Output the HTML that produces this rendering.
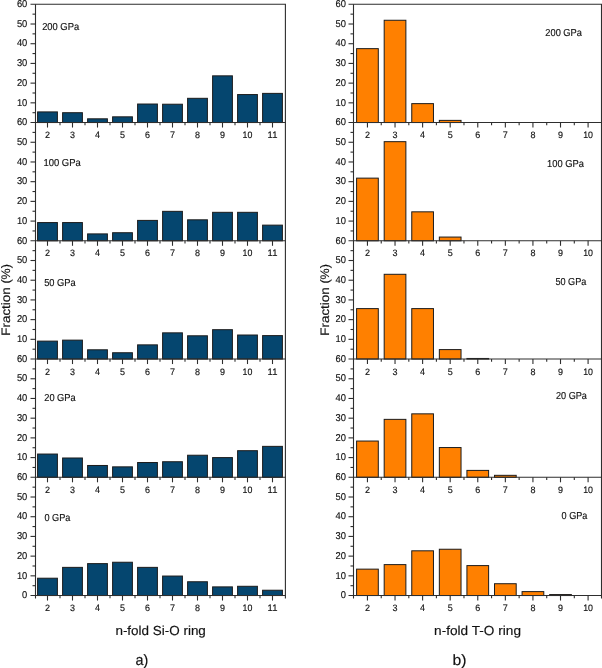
<!DOCTYPE html>
<html><head><meta charset="utf-8"><style>
html,body{margin:0;padding:0;background:#fff;width:602px;height:668px;overflow:hidden}
svg{display:block;will-change:transform;text-rendering:geometricPrecision}
text{font-family:"Liberation Sans",sans-serif;fill:#111;stroke:#111;stroke-width:0.15px}
</style></head><body>
<svg width="602" height="668" viewBox="0 0 602 668">
<rect x="37.60" y="111.91" width="19.80" height="10.64" fill="#05466f" stroke="#1c1c1c" stroke-width="1"/>
<rect x="62.60" y="112.70" width="19.80" height="9.85" fill="#05466f" stroke="#1c1c1c" stroke-width="1"/>
<rect x="87.60" y="118.81" width="19.80" height="3.74" fill="#05466f" stroke="#1c1c1c" stroke-width="1"/>
<rect x="112.60" y="116.83" width="19.80" height="5.72" fill="#05466f" stroke="#1c1c1c" stroke-width="1"/>
<rect x="137.60" y="104.02" width="19.80" height="18.53" fill="#05466f" stroke="#1c1c1c" stroke-width="1"/>
<rect x="162.60" y="104.22" width="19.80" height="18.33" fill="#05466f" stroke="#1c1c1c" stroke-width="1"/>
<rect x="187.60" y="98.31" width="19.80" height="24.24" fill="#05466f" stroke="#1c1c1c" stroke-width="1"/>
<rect x="212.60" y="75.84" width="19.80" height="46.71" fill="#05466f" stroke="#1c1c1c" stroke-width="1"/>
<rect x="237.60" y="94.56" width="19.80" height="27.99" fill="#05466f" stroke="#1c1c1c" stroke-width="1"/>
<rect x="262.60" y="93.38" width="19.80" height="29.17" fill="#05466f" stroke="#1c1c1c" stroke-width="1"/>
<rect x="37.60" y="222.57" width="19.80" height="18.23" fill="#05466f" stroke="#1c1c1c" stroke-width="1"/>
<rect x="62.60" y="222.57" width="19.80" height="18.23" fill="#05466f" stroke="#1c1c1c" stroke-width="1"/>
<rect x="87.60" y="233.90" width="19.80" height="6.90" fill="#05466f" stroke="#1c1c1c" stroke-width="1"/>
<rect x="112.60" y="232.72" width="19.80" height="8.08" fill="#05466f" stroke="#1c1c1c" stroke-width="1"/>
<rect x="137.60" y="220.40" width="19.80" height="20.40" fill="#05466f" stroke="#1c1c1c" stroke-width="1"/>
<rect x="162.60" y="211.34" width="19.80" height="29.46" fill="#05466f" stroke="#1c1c1c" stroke-width="1"/>
<rect x="187.60" y="219.81" width="19.80" height="20.99" fill="#05466f" stroke="#1c1c1c" stroke-width="1"/>
<rect x="212.60" y="212.32" width="19.80" height="28.48" fill="#05466f" stroke="#1c1c1c" stroke-width="1"/>
<rect x="237.60" y="212.32" width="19.80" height="28.48" fill="#05466f" stroke="#1c1c1c" stroke-width="1"/>
<rect x="262.60" y="225.13" width="19.80" height="15.67" fill="#05466f" stroke="#1c1c1c" stroke-width="1"/>
<rect x="37.60" y="341.12" width="19.80" height="17.93" fill="#05466f" stroke="#1c1c1c" stroke-width="1"/>
<rect x="62.60" y="340.13" width="19.80" height="18.92" fill="#05466f" stroke="#1c1c1c" stroke-width="1"/>
<rect x="87.60" y="349.79" width="19.80" height="9.26" fill="#05466f" stroke="#1c1c1c" stroke-width="1"/>
<rect x="112.60" y="352.74" width="19.80" height="6.31" fill="#05466f" stroke="#1c1c1c" stroke-width="1"/>
<rect x="137.60" y="344.86" width="19.80" height="14.19" fill="#05466f" stroke="#1c1c1c" stroke-width="1"/>
<rect x="162.60" y="332.84" width="19.80" height="26.21" fill="#05466f" stroke="#1c1c1c" stroke-width="1"/>
<rect x="187.60" y="335.79" width="19.80" height="23.26" fill="#05466f" stroke="#1c1c1c" stroke-width="1"/>
<rect x="212.60" y="329.68" width="19.80" height="29.37" fill="#05466f" stroke="#1c1c1c" stroke-width="1"/>
<rect x="237.60" y="335.01" width="19.80" height="24.04" fill="#05466f" stroke="#1c1c1c" stroke-width="1"/>
<rect x="262.60" y="335.60" width="19.80" height="23.45" fill="#05466f" stroke="#1c1c1c" stroke-width="1"/>
<rect x="37.60" y="454.04" width="19.80" height="23.26" fill="#05466f" stroke="#1c1c1c" stroke-width="1"/>
<rect x="62.60" y="457.99" width="19.80" height="19.31" fill="#05466f" stroke="#1c1c1c" stroke-width="1"/>
<rect x="87.60" y="465.48" width="19.80" height="11.83" fill="#05466f" stroke="#1c1c1c" stroke-width="1"/>
<rect x="112.60" y="466.85" width="19.80" height="10.45" fill="#05466f" stroke="#1c1c1c" stroke-width="1"/>
<rect x="137.60" y="462.52" width="19.80" height="14.78" fill="#05466f" stroke="#1c1c1c" stroke-width="1"/>
<rect x="162.60" y="461.73" width="19.80" height="15.57" fill="#05466f" stroke="#1c1c1c" stroke-width="1"/>
<rect x="187.60" y="455.23" width="19.80" height="22.07" fill="#05466f" stroke="#1c1c1c" stroke-width="1"/>
<rect x="212.60" y="457.59" width="19.80" height="19.71" fill="#05466f" stroke="#1c1c1c" stroke-width="1"/>
<rect x="237.60" y="450.69" width="19.80" height="26.61" fill="#05466f" stroke="#1c1c1c" stroke-width="1"/>
<rect x="262.60" y="446.36" width="19.80" height="30.94" fill="#05466f" stroke="#1c1c1c" stroke-width="1"/>
<rect x="37.60" y="578.21" width="19.80" height="17.34" fill="#05466f" stroke="#1c1c1c" stroke-width="1"/>
<rect x="62.60" y="567.37" width="19.80" height="28.18" fill="#05466f" stroke="#1c1c1c" stroke-width="1"/>
<rect x="87.60" y="563.62" width="19.80" height="31.93" fill="#05466f" stroke="#1c1c1c" stroke-width="1"/>
<rect x="112.60" y="562.24" width="19.80" height="33.31" fill="#05466f" stroke="#1c1c1c" stroke-width="1"/>
<rect x="137.60" y="567.37" width="19.80" height="28.18" fill="#05466f" stroke="#1c1c1c" stroke-width="1"/>
<rect x="162.60" y="576.04" width="19.80" height="19.51" fill="#05466f" stroke="#1c1c1c" stroke-width="1"/>
<rect x="187.60" y="581.75" width="19.80" height="13.80" fill="#05466f" stroke="#1c1c1c" stroke-width="1"/>
<rect x="212.60" y="586.88" width="19.80" height="8.67" fill="#05466f" stroke="#1c1c1c" stroke-width="1"/>
<rect x="237.60" y="586.29" width="19.80" height="9.26" fill="#05466f" stroke="#1c1c1c" stroke-width="1"/>
<rect x="262.60" y="590.23" width="19.80" height="5.32" fill="#05466f" stroke="#1c1c1c" stroke-width="1"/>
<path d="M30.50 4.30H285.40V598.55" fill="none" stroke="#2e2e2e" stroke-width="1.1"/>
<path d="M35.50 4.30V598.55" fill="none" stroke="#2e2e2e" stroke-width="1.1"/>
<path d="M30.50 122.55H285.40" fill="none" stroke="#2e2e2e" stroke-width="1.1"/>
<path d="M32.50 112.70H35.50" fill="none" stroke="#2e2e2e" stroke-width="1.1"/>
<path d="M30.50 102.84H35.50" fill="none" stroke="#2e2e2e" stroke-width="1.1"/>
<path d="M32.50 92.99H35.50" fill="none" stroke="#2e2e2e" stroke-width="1.1"/>
<path d="M30.50 83.13H35.50" fill="none" stroke="#2e2e2e" stroke-width="1.1"/>
<path d="M32.50 73.28H35.50" fill="none" stroke="#2e2e2e" stroke-width="1.1"/>
<path d="M30.50 63.42H35.50" fill="none" stroke="#2e2e2e" stroke-width="1.1"/>
<path d="M32.50 53.57H35.50" fill="none" stroke="#2e2e2e" stroke-width="1.1"/>
<path d="M30.50 43.72H35.50" fill="none" stroke="#2e2e2e" stroke-width="1.1"/>
<path d="M32.50 33.86H35.50" fill="none" stroke="#2e2e2e" stroke-width="1.1"/>
<path d="M30.50 24.01H35.50" fill="none" stroke="#2e2e2e" stroke-width="1.1"/>
<path d="M32.50 14.15H35.50" fill="none" stroke="#2e2e2e" stroke-width="1.1"/>
<text x="27.30" y="105.54" text-anchor="end" font-size="9.9" textLength="10.4" lengthAdjust="spacingAndGlyphs">10</text>
<text x="27.30" y="85.83" text-anchor="end" font-size="9.9" textLength="10.4" lengthAdjust="spacingAndGlyphs">20</text>
<text x="27.30" y="66.12" text-anchor="end" font-size="9.9" textLength="10.4" lengthAdjust="spacingAndGlyphs">30</text>
<text x="27.30" y="46.42" text-anchor="end" font-size="9.9" textLength="10.4" lengthAdjust="spacingAndGlyphs">40</text>
<text x="27.30" y="26.71" text-anchor="end" font-size="9.9" textLength="10.4" lengthAdjust="spacingAndGlyphs">50</text>
<text x="27.30" y="7.00" text-anchor="end" font-size="9.9" textLength="10.4" lengthAdjust="spacingAndGlyphs">60</text>
<path d="M47.50 122.55V127.55" fill="none" stroke="#2e2e2e" stroke-width="1.1"/>
<path d="M60.00 122.55V125.15" fill="none" stroke="#2e2e2e" stroke-width="1.1"/>
<text x="47.50" y="138.15" text-anchor="middle" font-size="9.3" textLength="5.0" lengthAdjust="spacingAndGlyphs">2</text>
<path d="M72.50 122.55V127.55" fill="none" stroke="#2e2e2e" stroke-width="1.1"/>
<path d="M85.00 122.55V125.15" fill="none" stroke="#2e2e2e" stroke-width="1.1"/>
<text x="72.50" y="138.15" text-anchor="middle" font-size="9.3" textLength="5.0" lengthAdjust="spacingAndGlyphs">3</text>
<path d="M97.50 122.55V127.55" fill="none" stroke="#2e2e2e" stroke-width="1.1"/>
<path d="M110.00 122.55V125.15" fill="none" stroke="#2e2e2e" stroke-width="1.1"/>
<text x="97.50" y="138.15" text-anchor="middle" font-size="9.3" textLength="5.0" lengthAdjust="spacingAndGlyphs">4</text>
<path d="M122.50 122.55V127.55" fill="none" stroke="#2e2e2e" stroke-width="1.1"/>
<path d="M135.00 122.55V125.15" fill="none" stroke="#2e2e2e" stroke-width="1.1"/>
<text x="122.50" y="138.15" text-anchor="middle" font-size="9.3" textLength="5.0" lengthAdjust="spacingAndGlyphs">5</text>
<path d="M147.50 122.55V127.55" fill="none" stroke="#2e2e2e" stroke-width="1.1"/>
<path d="M160.00 122.55V125.15" fill="none" stroke="#2e2e2e" stroke-width="1.1"/>
<text x="147.50" y="138.15" text-anchor="middle" font-size="9.3" textLength="5.0" lengthAdjust="spacingAndGlyphs">6</text>
<path d="M172.50 122.55V127.55" fill="none" stroke="#2e2e2e" stroke-width="1.1"/>
<path d="M185.00 122.55V125.15" fill="none" stroke="#2e2e2e" stroke-width="1.1"/>
<text x="172.50" y="138.15" text-anchor="middle" font-size="9.3" textLength="5.0" lengthAdjust="spacingAndGlyphs">7</text>
<path d="M197.50 122.55V127.55" fill="none" stroke="#2e2e2e" stroke-width="1.1"/>
<path d="M210.00 122.55V125.15" fill="none" stroke="#2e2e2e" stroke-width="1.1"/>
<text x="197.50" y="138.15" text-anchor="middle" font-size="9.3" textLength="5.0" lengthAdjust="spacingAndGlyphs">8</text>
<path d="M222.50 122.55V127.55" fill="none" stroke="#2e2e2e" stroke-width="1.1"/>
<path d="M235.00 122.55V125.15" fill="none" stroke="#2e2e2e" stroke-width="1.1"/>
<text x="222.50" y="138.15" text-anchor="middle" font-size="9.3" textLength="5.0" lengthAdjust="spacingAndGlyphs">9</text>
<path d="M247.50 122.55V127.55" fill="none" stroke="#2e2e2e" stroke-width="1.1"/>
<path d="M260.00 122.55V125.15" fill="none" stroke="#2e2e2e" stroke-width="1.1"/>
<text x="247.50" y="138.15" text-anchor="middle" font-size="9.3" textLength="9.8" lengthAdjust="spacingAndGlyphs">10</text>
<path d="M272.50 122.55V127.55" fill="none" stroke="#2e2e2e" stroke-width="1.1"/>
<text x="272.50" y="138.15" text-anchor="middle" font-size="9.3" textLength="9.8" lengthAdjust="spacingAndGlyphs">11</text>
<text x="42.13" y="30.00" font-size="10.1" textLength="36.97" lengthAdjust="spacingAndGlyphs">200 GPa</text>
<path d="M30.50 240.80H285.40" fill="none" stroke="#2e2e2e" stroke-width="1.1"/>
<path d="M32.50 230.95H35.50" fill="none" stroke="#2e2e2e" stroke-width="1.1"/>
<path d="M30.50 221.09H35.50" fill="none" stroke="#2e2e2e" stroke-width="1.1"/>
<path d="M32.50 211.24H35.50" fill="none" stroke="#2e2e2e" stroke-width="1.1"/>
<path d="M30.50 201.38H35.50" fill="none" stroke="#2e2e2e" stroke-width="1.1"/>
<path d="M32.50 191.53H35.50" fill="none" stroke="#2e2e2e" stroke-width="1.1"/>
<path d="M30.50 181.68H35.50" fill="none" stroke="#2e2e2e" stroke-width="1.1"/>
<path d="M32.50 171.82H35.50" fill="none" stroke="#2e2e2e" stroke-width="1.1"/>
<path d="M30.50 161.97H35.50" fill="none" stroke="#2e2e2e" stroke-width="1.1"/>
<path d="M32.50 152.11H35.50" fill="none" stroke="#2e2e2e" stroke-width="1.1"/>
<path d="M30.50 142.26H35.50" fill="none" stroke="#2e2e2e" stroke-width="1.1"/>
<path d="M32.50 132.40H35.50" fill="none" stroke="#2e2e2e" stroke-width="1.1"/>
<text x="27.30" y="223.79" text-anchor="end" font-size="9.9" textLength="10.4" lengthAdjust="spacingAndGlyphs">10</text>
<text x="27.30" y="204.08" text-anchor="end" font-size="9.9" textLength="10.4" lengthAdjust="spacingAndGlyphs">20</text>
<text x="27.30" y="184.38" text-anchor="end" font-size="9.9" textLength="10.4" lengthAdjust="spacingAndGlyphs">30</text>
<text x="27.30" y="164.67" text-anchor="end" font-size="9.9" textLength="10.4" lengthAdjust="spacingAndGlyphs">40</text>
<text x="27.30" y="144.96" text-anchor="end" font-size="9.9" textLength="10.4" lengthAdjust="spacingAndGlyphs">50</text>
<text x="27.30" y="125.25" text-anchor="end" font-size="9.9" textLength="10.4" lengthAdjust="spacingAndGlyphs">60</text>
<path d="M47.50 240.80V245.80" fill="none" stroke="#2e2e2e" stroke-width="1.1"/>
<path d="M60.00 240.80V243.40" fill="none" stroke="#2e2e2e" stroke-width="1.1"/>
<text x="47.50" y="256.40" text-anchor="middle" font-size="9.3" textLength="5.0" lengthAdjust="spacingAndGlyphs">2</text>
<path d="M72.50 240.80V245.80" fill="none" stroke="#2e2e2e" stroke-width="1.1"/>
<path d="M85.00 240.80V243.40" fill="none" stroke="#2e2e2e" stroke-width="1.1"/>
<text x="72.50" y="256.40" text-anchor="middle" font-size="9.3" textLength="5.0" lengthAdjust="spacingAndGlyphs">3</text>
<path d="M97.50 240.80V245.80" fill="none" stroke="#2e2e2e" stroke-width="1.1"/>
<path d="M110.00 240.80V243.40" fill="none" stroke="#2e2e2e" stroke-width="1.1"/>
<text x="97.50" y="256.40" text-anchor="middle" font-size="9.3" textLength="5.0" lengthAdjust="spacingAndGlyphs">4</text>
<path d="M122.50 240.80V245.80" fill="none" stroke="#2e2e2e" stroke-width="1.1"/>
<path d="M135.00 240.80V243.40" fill="none" stroke="#2e2e2e" stroke-width="1.1"/>
<text x="122.50" y="256.40" text-anchor="middle" font-size="9.3" textLength="5.0" lengthAdjust="spacingAndGlyphs">5</text>
<path d="M147.50 240.80V245.80" fill="none" stroke="#2e2e2e" stroke-width="1.1"/>
<path d="M160.00 240.80V243.40" fill="none" stroke="#2e2e2e" stroke-width="1.1"/>
<text x="147.50" y="256.40" text-anchor="middle" font-size="9.3" textLength="5.0" lengthAdjust="spacingAndGlyphs">6</text>
<path d="M172.50 240.80V245.80" fill="none" stroke="#2e2e2e" stroke-width="1.1"/>
<path d="M185.00 240.80V243.40" fill="none" stroke="#2e2e2e" stroke-width="1.1"/>
<text x="172.50" y="256.40" text-anchor="middle" font-size="9.3" textLength="5.0" lengthAdjust="spacingAndGlyphs">7</text>
<path d="M197.50 240.80V245.80" fill="none" stroke="#2e2e2e" stroke-width="1.1"/>
<path d="M210.00 240.80V243.40" fill="none" stroke="#2e2e2e" stroke-width="1.1"/>
<text x="197.50" y="256.40" text-anchor="middle" font-size="9.3" textLength="5.0" lengthAdjust="spacingAndGlyphs">8</text>
<path d="M222.50 240.80V245.80" fill="none" stroke="#2e2e2e" stroke-width="1.1"/>
<path d="M235.00 240.80V243.40" fill="none" stroke="#2e2e2e" stroke-width="1.1"/>
<text x="222.50" y="256.40" text-anchor="middle" font-size="9.3" textLength="5.0" lengthAdjust="spacingAndGlyphs">9</text>
<path d="M247.50 240.80V245.80" fill="none" stroke="#2e2e2e" stroke-width="1.1"/>
<path d="M260.00 240.80V243.40" fill="none" stroke="#2e2e2e" stroke-width="1.1"/>
<text x="247.50" y="256.40" text-anchor="middle" font-size="9.3" textLength="9.8" lengthAdjust="spacingAndGlyphs">10</text>
<path d="M272.50 240.80V245.80" fill="none" stroke="#2e2e2e" stroke-width="1.1"/>
<text x="272.50" y="256.40" text-anchor="middle" font-size="9.3" textLength="9.8" lengthAdjust="spacingAndGlyphs">11</text>
<text x="43.48" y="165.80" font-size="10.1" textLength="37.22" lengthAdjust="spacingAndGlyphs">100 GPa</text>
<path d="M30.50 359.05H285.40" fill="none" stroke="#2e2e2e" stroke-width="1.1"/>
<path d="M32.50 349.20H35.50" fill="none" stroke="#2e2e2e" stroke-width="1.1"/>
<path d="M30.50 339.34H35.50" fill="none" stroke="#2e2e2e" stroke-width="1.1"/>
<path d="M32.50 329.49H35.50" fill="none" stroke="#2e2e2e" stroke-width="1.1"/>
<path d="M30.50 319.63H35.50" fill="none" stroke="#2e2e2e" stroke-width="1.1"/>
<path d="M32.50 309.78H35.50" fill="none" stroke="#2e2e2e" stroke-width="1.1"/>
<path d="M30.50 299.93H35.50" fill="none" stroke="#2e2e2e" stroke-width="1.1"/>
<path d="M32.50 290.07H35.50" fill="none" stroke="#2e2e2e" stroke-width="1.1"/>
<path d="M30.50 280.22H35.50" fill="none" stroke="#2e2e2e" stroke-width="1.1"/>
<path d="M32.50 270.36H35.50" fill="none" stroke="#2e2e2e" stroke-width="1.1"/>
<path d="M30.50 260.51H35.50" fill="none" stroke="#2e2e2e" stroke-width="1.1"/>
<path d="M32.50 250.65H35.50" fill="none" stroke="#2e2e2e" stroke-width="1.1"/>
<text x="27.30" y="342.04" text-anchor="end" font-size="9.9" textLength="10.4" lengthAdjust="spacingAndGlyphs">10</text>
<text x="27.30" y="322.33" text-anchor="end" font-size="9.9" textLength="10.4" lengthAdjust="spacingAndGlyphs">20</text>
<text x="27.30" y="302.62" text-anchor="end" font-size="9.9" textLength="10.4" lengthAdjust="spacingAndGlyphs">30</text>
<text x="27.30" y="282.92" text-anchor="end" font-size="9.9" textLength="10.4" lengthAdjust="spacingAndGlyphs">40</text>
<text x="27.30" y="263.21" text-anchor="end" font-size="9.9" textLength="10.4" lengthAdjust="spacingAndGlyphs">50</text>
<text x="27.30" y="243.50" text-anchor="end" font-size="9.9" textLength="10.4" lengthAdjust="spacingAndGlyphs">60</text>
<path d="M47.50 359.05V364.05" fill="none" stroke="#2e2e2e" stroke-width="1.1"/>
<path d="M60.00 359.05V361.65" fill="none" stroke="#2e2e2e" stroke-width="1.1"/>
<text x="47.50" y="374.65" text-anchor="middle" font-size="9.3" textLength="5.0" lengthAdjust="spacingAndGlyphs">2</text>
<path d="M72.50 359.05V364.05" fill="none" stroke="#2e2e2e" stroke-width="1.1"/>
<path d="M85.00 359.05V361.65" fill="none" stroke="#2e2e2e" stroke-width="1.1"/>
<text x="72.50" y="374.65" text-anchor="middle" font-size="9.3" textLength="5.0" lengthAdjust="spacingAndGlyphs">3</text>
<path d="M97.50 359.05V364.05" fill="none" stroke="#2e2e2e" stroke-width="1.1"/>
<path d="M110.00 359.05V361.65" fill="none" stroke="#2e2e2e" stroke-width="1.1"/>
<text x="97.50" y="374.65" text-anchor="middle" font-size="9.3" textLength="5.0" lengthAdjust="spacingAndGlyphs">4</text>
<path d="M122.50 359.05V364.05" fill="none" stroke="#2e2e2e" stroke-width="1.1"/>
<path d="M135.00 359.05V361.65" fill="none" stroke="#2e2e2e" stroke-width="1.1"/>
<text x="122.50" y="374.65" text-anchor="middle" font-size="9.3" textLength="5.0" lengthAdjust="spacingAndGlyphs">5</text>
<path d="M147.50 359.05V364.05" fill="none" stroke="#2e2e2e" stroke-width="1.1"/>
<path d="M160.00 359.05V361.65" fill="none" stroke="#2e2e2e" stroke-width="1.1"/>
<text x="147.50" y="374.65" text-anchor="middle" font-size="9.3" textLength="5.0" lengthAdjust="spacingAndGlyphs">6</text>
<path d="M172.50 359.05V364.05" fill="none" stroke="#2e2e2e" stroke-width="1.1"/>
<path d="M185.00 359.05V361.65" fill="none" stroke="#2e2e2e" stroke-width="1.1"/>
<text x="172.50" y="374.65" text-anchor="middle" font-size="9.3" textLength="5.0" lengthAdjust="spacingAndGlyphs">7</text>
<path d="M197.50 359.05V364.05" fill="none" stroke="#2e2e2e" stroke-width="1.1"/>
<path d="M210.00 359.05V361.65" fill="none" stroke="#2e2e2e" stroke-width="1.1"/>
<text x="197.50" y="374.65" text-anchor="middle" font-size="9.3" textLength="5.0" lengthAdjust="spacingAndGlyphs">8</text>
<path d="M222.50 359.05V364.05" fill="none" stroke="#2e2e2e" stroke-width="1.1"/>
<path d="M235.00 359.05V361.65" fill="none" stroke="#2e2e2e" stroke-width="1.1"/>
<text x="222.50" y="374.65" text-anchor="middle" font-size="9.3" textLength="5.0" lengthAdjust="spacingAndGlyphs">9</text>
<path d="M247.50 359.05V364.05" fill="none" stroke="#2e2e2e" stroke-width="1.1"/>
<path d="M260.00 359.05V361.65" fill="none" stroke="#2e2e2e" stroke-width="1.1"/>
<text x="247.50" y="374.65" text-anchor="middle" font-size="9.3" textLength="9.8" lengthAdjust="spacingAndGlyphs">10</text>
<path d="M272.50 359.05V364.05" fill="none" stroke="#2e2e2e" stroke-width="1.1"/>
<text x="272.50" y="374.65" text-anchor="middle" font-size="9.3" textLength="9.8" lengthAdjust="spacingAndGlyphs">11</text>
<text x="44.13" y="285.80" font-size="10.1" textLength="31.57" lengthAdjust="spacingAndGlyphs">50 GPa</text>
<path d="M30.50 477.30H285.40" fill="none" stroke="#2e2e2e" stroke-width="1.1"/>
<path d="M32.50 467.45H35.50" fill="none" stroke="#2e2e2e" stroke-width="1.1"/>
<path d="M30.50 457.59H35.50" fill="none" stroke="#2e2e2e" stroke-width="1.1"/>
<path d="M32.50 447.74H35.50" fill="none" stroke="#2e2e2e" stroke-width="1.1"/>
<path d="M30.50 437.88H35.50" fill="none" stroke="#2e2e2e" stroke-width="1.1"/>
<path d="M32.50 428.03H35.50" fill="none" stroke="#2e2e2e" stroke-width="1.1"/>
<path d="M30.50 418.18H35.50" fill="none" stroke="#2e2e2e" stroke-width="1.1"/>
<path d="M32.50 408.32H35.50" fill="none" stroke="#2e2e2e" stroke-width="1.1"/>
<path d="M30.50 398.47H35.50" fill="none" stroke="#2e2e2e" stroke-width="1.1"/>
<path d="M32.50 388.61H35.50" fill="none" stroke="#2e2e2e" stroke-width="1.1"/>
<path d="M30.50 378.76H35.50" fill="none" stroke="#2e2e2e" stroke-width="1.1"/>
<path d="M32.50 368.90H35.50" fill="none" stroke="#2e2e2e" stroke-width="1.1"/>
<text x="27.30" y="460.29" text-anchor="end" font-size="9.9" textLength="10.4" lengthAdjust="spacingAndGlyphs">10</text>
<text x="27.30" y="440.58" text-anchor="end" font-size="9.9" textLength="10.4" lengthAdjust="spacingAndGlyphs">20</text>
<text x="27.30" y="420.88" text-anchor="end" font-size="9.9" textLength="10.4" lengthAdjust="spacingAndGlyphs">30</text>
<text x="27.30" y="401.17" text-anchor="end" font-size="9.9" textLength="10.4" lengthAdjust="spacingAndGlyphs">40</text>
<text x="27.30" y="381.46" text-anchor="end" font-size="9.9" textLength="10.4" lengthAdjust="spacingAndGlyphs">50</text>
<text x="27.30" y="361.75" text-anchor="end" font-size="9.9" textLength="10.4" lengthAdjust="spacingAndGlyphs">60</text>
<path d="M47.50 477.30V482.30" fill="none" stroke="#2e2e2e" stroke-width="1.1"/>
<path d="M60.00 477.30V479.90" fill="none" stroke="#2e2e2e" stroke-width="1.1"/>
<text x="47.50" y="492.90" text-anchor="middle" font-size="9.3" textLength="5.0" lengthAdjust="spacingAndGlyphs">2</text>
<path d="M72.50 477.30V482.30" fill="none" stroke="#2e2e2e" stroke-width="1.1"/>
<path d="M85.00 477.30V479.90" fill="none" stroke="#2e2e2e" stroke-width="1.1"/>
<text x="72.50" y="492.90" text-anchor="middle" font-size="9.3" textLength="5.0" lengthAdjust="spacingAndGlyphs">3</text>
<path d="M97.50 477.30V482.30" fill="none" stroke="#2e2e2e" stroke-width="1.1"/>
<path d="M110.00 477.30V479.90" fill="none" stroke="#2e2e2e" stroke-width="1.1"/>
<text x="97.50" y="492.90" text-anchor="middle" font-size="9.3" textLength="5.0" lengthAdjust="spacingAndGlyphs">4</text>
<path d="M122.50 477.30V482.30" fill="none" stroke="#2e2e2e" stroke-width="1.1"/>
<path d="M135.00 477.30V479.90" fill="none" stroke="#2e2e2e" stroke-width="1.1"/>
<text x="122.50" y="492.90" text-anchor="middle" font-size="9.3" textLength="5.0" lengthAdjust="spacingAndGlyphs">5</text>
<path d="M147.50 477.30V482.30" fill="none" stroke="#2e2e2e" stroke-width="1.1"/>
<path d="M160.00 477.30V479.90" fill="none" stroke="#2e2e2e" stroke-width="1.1"/>
<text x="147.50" y="492.90" text-anchor="middle" font-size="9.3" textLength="5.0" lengthAdjust="spacingAndGlyphs">6</text>
<path d="M172.50 477.30V482.30" fill="none" stroke="#2e2e2e" stroke-width="1.1"/>
<path d="M185.00 477.30V479.90" fill="none" stroke="#2e2e2e" stroke-width="1.1"/>
<text x="172.50" y="492.90" text-anchor="middle" font-size="9.3" textLength="5.0" lengthAdjust="spacingAndGlyphs">7</text>
<path d="M197.50 477.30V482.30" fill="none" stroke="#2e2e2e" stroke-width="1.1"/>
<path d="M210.00 477.30V479.90" fill="none" stroke="#2e2e2e" stroke-width="1.1"/>
<text x="197.50" y="492.90" text-anchor="middle" font-size="9.3" textLength="5.0" lengthAdjust="spacingAndGlyphs">8</text>
<path d="M222.50 477.30V482.30" fill="none" stroke="#2e2e2e" stroke-width="1.1"/>
<path d="M235.00 477.30V479.90" fill="none" stroke="#2e2e2e" stroke-width="1.1"/>
<text x="222.50" y="492.90" text-anchor="middle" font-size="9.3" textLength="5.0" lengthAdjust="spacingAndGlyphs">9</text>
<path d="M247.50 477.30V482.30" fill="none" stroke="#2e2e2e" stroke-width="1.1"/>
<path d="M260.00 477.30V479.90" fill="none" stroke="#2e2e2e" stroke-width="1.1"/>
<text x="247.50" y="492.90" text-anchor="middle" font-size="9.3" textLength="9.8" lengthAdjust="spacingAndGlyphs">10</text>
<path d="M272.50 477.30V482.30" fill="none" stroke="#2e2e2e" stroke-width="1.1"/>
<text x="272.50" y="492.90" text-anchor="middle" font-size="9.3" textLength="9.8" lengthAdjust="spacingAndGlyphs">11</text>
<text x="44.23" y="400.80" font-size="10.1" textLength="31.47" lengthAdjust="spacingAndGlyphs">20 GPa</text>
<path d="M30.50 595.55H285.40" fill="none" stroke="#2e2e2e" stroke-width="1.1"/>
<path d="M32.50 585.70H35.50" fill="none" stroke="#2e2e2e" stroke-width="1.1"/>
<path d="M30.50 575.84H35.50" fill="none" stroke="#2e2e2e" stroke-width="1.1"/>
<path d="M32.50 565.99H35.50" fill="none" stroke="#2e2e2e" stroke-width="1.1"/>
<path d="M30.50 556.13H35.50" fill="none" stroke="#2e2e2e" stroke-width="1.1"/>
<path d="M32.50 546.28H35.50" fill="none" stroke="#2e2e2e" stroke-width="1.1"/>
<path d="M30.50 536.42H35.50" fill="none" stroke="#2e2e2e" stroke-width="1.1"/>
<path d="M32.50 526.57H35.50" fill="none" stroke="#2e2e2e" stroke-width="1.1"/>
<path d="M30.50 516.72H35.50" fill="none" stroke="#2e2e2e" stroke-width="1.1"/>
<path d="M32.50 506.86H35.50" fill="none" stroke="#2e2e2e" stroke-width="1.1"/>
<path d="M30.50 497.01H35.50" fill="none" stroke="#2e2e2e" stroke-width="1.1"/>
<path d="M32.50 487.15H35.50" fill="none" stroke="#2e2e2e" stroke-width="1.1"/>
<text x="27.30" y="578.54" text-anchor="end" font-size="9.9" textLength="10.4" lengthAdjust="spacingAndGlyphs">10</text>
<text x="27.30" y="558.83" text-anchor="end" font-size="9.9" textLength="10.4" lengthAdjust="spacingAndGlyphs">20</text>
<text x="27.30" y="539.12" text-anchor="end" font-size="9.9" textLength="10.4" lengthAdjust="spacingAndGlyphs">30</text>
<text x="27.30" y="519.42" text-anchor="end" font-size="9.9" textLength="10.4" lengthAdjust="spacingAndGlyphs">40</text>
<text x="27.30" y="499.71" text-anchor="end" font-size="9.9" textLength="10.4" lengthAdjust="spacingAndGlyphs">50</text>
<text x="27.30" y="480.00" text-anchor="end" font-size="9.9" textLength="10.4" lengthAdjust="spacingAndGlyphs">60</text>
<path d="M47.50 595.55V600.55" fill="none" stroke="#2e2e2e" stroke-width="1.1"/>
<path d="M60.00 595.55V598.15" fill="none" stroke="#2e2e2e" stroke-width="1.1"/>
<text x="47.50" y="611.15" text-anchor="middle" font-size="9.3" textLength="5.0" lengthAdjust="spacingAndGlyphs">2</text>
<path d="M72.50 595.55V600.55" fill="none" stroke="#2e2e2e" stroke-width="1.1"/>
<path d="M85.00 595.55V598.15" fill="none" stroke="#2e2e2e" stroke-width="1.1"/>
<text x="72.50" y="611.15" text-anchor="middle" font-size="9.3" textLength="5.0" lengthAdjust="spacingAndGlyphs">3</text>
<path d="M97.50 595.55V600.55" fill="none" stroke="#2e2e2e" stroke-width="1.1"/>
<path d="M110.00 595.55V598.15" fill="none" stroke="#2e2e2e" stroke-width="1.1"/>
<text x="97.50" y="611.15" text-anchor="middle" font-size="9.3" textLength="5.0" lengthAdjust="spacingAndGlyphs">4</text>
<path d="M122.50 595.55V600.55" fill="none" stroke="#2e2e2e" stroke-width="1.1"/>
<path d="M135.00 595.55V598.15" fill="none" stroke="#2e2e2e" stroke-width="1.1"/>
<text x="122.50" y="611.15" text-anchor="middle" font-size="9.3" textLength="5.0" lengthAdjust="spacingAndGlyphs">5</text>
<path d="M147.50 595.55V600.55" fill="none" stroke="#2e2e2e" stroke-width="1.1"/>
<path d="M160.00 595.55V598.15" fill="none" stroke="#2e2e2e" stroke-width="1.1"/>
<text x="147.50" y="611.15" text-anchor="middle" font-size="9.3" textLength="5.0" lengthAdjust="spacingAndGlyphs">6</text>
<path d="M172.50 595.55V600.55" fill="none" stroke="#2e2e2e" stroke-width="1.1"/>
<path d="M185.00 595.55V598.15" fill="none" stroke="#2e2e2e" stroke-width="1.1"/>
<text x="172.50" y="611.15" text-anchor="middle" font-size="9.3" textLength="5.0" lengthAdjust="spacingAndGlyphs">7</text>
<path d="M197.50 595.55V600.55" fill="none" stroke="#2e2e2e" stroke-width="1.1"/>
<path d="M210.00 595.55V598.15" fill="none" stroke="#2e2e2e" stroke-width="1.1"/>
<text x="197.50" y="611.15" text-anchor="middle" font-size="9.3" textLength="5.0" lengthAdjust="spacingAndGlyphs">8</text>
<path d="M222.50 595.55V600.55" fill="none" stroke="#2e2e2e" stroke-width="1.1"/>
<path d="M235.00 595.55V598.15" fill="none" stroke="#2e2e2e" stroke-width="1.1"/>
<text x="222.50" y="611.15" text-anchor="middle" font-size="9.3" textLength="5.0" lengthAdjust="spacingAndGlyphs">9</text>
<path d="M247.50 595.55V600.55" fill="none" stroke="#2e2e2e" stroke-width="1.1"/>
<path d="M260.00 595.55V598.15" fill="none" stroke="#2e2e2e" stroke-width="1.1"/>
<text x="247.50" y="611.15" text-anchor="middle" font-size="9.3" textLength="9.8" lengthAdjust="spacingAndGlyphs">10</text>
<path d="M272.50 595.55V600.55" fill="none" stroke="#2e2e2e" stroke-width="1.1"/>
<text x="272.50" y="611.15" text-anchor="middle" font-size="9.3" textLength="9.8" lengthAdjust="spacingAndGlyphs">11</text>
<text x="44.44" y="520.50" font-size="10.1" textLength="25.96" lengthAdjust="spacingAndGlyphs">0 GPa</text>
<text x="27.30" y="598.25" text-anchor="end" font-size="9.9" textLength="5.2" lengthAdjust="spacingAndGlyphs">0</text>
<g transform="translate(9.90 334.7) rotate(-90)"><text x="-1.10" y="0.00" font-size="12.3" textLength="48.58" lengthAdjust="spacingAndGlyphs">Fraction</text><text x="51.12" y="0.00" font-size="12.3" textLength="19.56" lengthAdjust="spacingAndGlyphs">(%)</text></g>
<text x="115.41" y="635.40" font-size="13.1" textLength="90.46" lengthAdjust="spacingAndGlyphs">n-fold Si-O ring</text>
<text x="135.39" y="664.80" font-size="15" textLength="12.80" lengthAdjust="spacingAndGlyphs">a)</text>
<rect x="356.60" y="48.64" width="21.70" height="73.91" fill="#ff8000" stroke="#1c1c1c" stroke-width="1"/>
<rect x="384.18" y="20.26" width="21.70" height="102.29" fill="#ff8000" stroke="#1c1c1c" stroke-width="1"/>
<rect x="411.76" y="103.63" width="21.70" height="18.92" fill="#ff8000" stroke="#1c1c1c" stroke-width="1"/>
<rect x="439.34" y="120.38" width="21.70" height="2.17" fill="#ff8000" stroke="#1c1c1c" stroke-width="1"/>
<rect x="356.60" y="178.13" width="21.70" height="62.67" fill="#ff8000" stroke="#1c1c1c" stroke-width="1"/>
<rect x="384.18" y="141.67" width="21.70" height="99.13" fill="#ff8000" stroke="#1c1c1c" stroke-width="1"/>
<rect x="411.76" y="211.83" width="21.70" height="28.97" fill="#ff8000" stroke="#1c1c1c" stroke-width="1"/>
<rect x="439.34" y="237.06" width="21.70" height="3.74" fill="#ff8000" stroke="#1c1c1c" stroke-width="1"/>
<rect x="356.60" y="308.60" width="21.70" height="50.45" fill="#ff8000" stroke="#1c1c1c" stroke-width="1"/>
<rect x="384.18" y="274.30" width="21.70" height="84.75" fill="#ff8000" stroke="#1c1c1c" stroke-width="1"/>
<rect x="411.76" y="308.60" width="21.70" height="50.45" fill="#ff8000" stroke="#1c1c1c" stroke-width="1"/>
<rect x="439.34" y="349.59" width="21.70" height="9.46" fill="#ff8000" stroke="#1c1c1c" stroke-width="1"/>
<rect x="466.92" y="358.46" width="21.70" height="0.59" fill="#ff8000" stroke="#1c1c1c" stroke-width="1"/>
<rect x="356.60" y="441.04" width="21.70" height="36.26" fill="#ff8000" stroke="#1c1c1c" stroke-width="1"/>
<rect x="384.18" y="419.36" width="21.70" height="57.94" fill="#ff8000" stroke="#1c1c1c" stroke-width="1"/>
<rect x="411.76" y="413.84" width="21.70" height="63.46" fill="#ff8000" stroke="#1c1c1c" stroke-width="1"/>
<rect x="439.34" y="447.54" width="21.70" height="29.76" fill="#ff8000" stroke="#1c1c1c" stroke-width="1"/>
<rect x="466.92" y="470.40" width="21.70" height="6.90" fill="#ff8000" stroke="#1c1c1c" stroke-width="1"/>
<rect x="494.50" y="475.33" width="21.70" height="1.97" fill="#ff8000" stroke="#1c1c1c" stroke-width="1"/>
<rect x="356.60" y="569.14" width="21.70" height="26.41" fill="#ff8000" stroke="#1c1c1c" stroke-width="1"/>
<rect x="384.18" y="564.61" width="21.70" height="30.94" fill="#ff8000" stroke="#1c1c1c" stroke-width="1"/>
<rect x="411.76" y="550.81" width="21.70" height="44.74" fill="#ff8000" stroke="#1c1c1c" stroke-width="1"/>
<rect x="439.34" y="549.24" width="21.70" height="46.31" fill="#ff8000" stroke="#1c1c1c" stroke-width="1"/>
<rect x="466.92" y="565.59" width="21.70" height="29.96" fill="#ff8000" stroke="#1c1c1c" stroke-width="1"/>
<rect x="494.50" y="583.72" width="21.70" height="11.83" fill="#ff8000" stroke="#1c1c1c" stroke-width="1"/>
<rect x="522.08" y="591.61" width="21.70" height="3.94" fill="#ff8000" stroke="#1c1c1c" stroke-width="1"/>
<rect x="549.66" y="594.56" width="21.70" height="0.99" fill="#ff8000" stroke="#1c1c1c" stroke-width="1"/>
<path d="M348.50 4.30H601.50V598.55" fill="none" stroke="#2e2e2e" stroke-width="1.1"/>
<path d="M353.50 4.30V598.55" fill="none" stroke="#2e2e2e" stroke-width="1.1"/>
<path d="M348.50 122.55H601.50" fill="none" stroke="#2e2e2e" stroke-width="1.1"/>
<path d="M350.50 112.70H353.50" fill="none" stroke="#2e2e2e" stroke-width="1.1"/>
<path d="M348.50 102.84H353.50" fill="none" stroke="#2e2e2e" stroke-width="1.1"/>
<path d="M350.50 92.99H353.50" fill="none" stroke="#2e2e2e" stroke-width="1.1"/>
<path d="M348.50 83.13H353.50" fill="none" stroke="#2e2e2e" stroke-width="1.1"/>
<path d="M350.50 73.28H353.50" fill="none" stroke="#2e2e2e" stroke-width="1.1"/>
<path d="M348.50 63.42H353.50" fill="none" stroke="#2e2e2e" stroke-width="1.1"/>
<path d="M350.50 53.57H353.50" fill="none" stroke="#2e2e2e" stroke-width="1.1"/>
<path d="M348.50 43.72H353.50" fill="none" stroke="#2e2e2e" stroke-width="1.1"/>
<path d="M350.50 33.86H353.50" fill="none" stroke="#2e2e2e" stroke-width="1.1"/>
<path d="M348.50 24.01H353.50" fill="none" stroke="#2e2e2e" stroke-width="1.1"/>
<path d="M350.50 14.15H353.50" fill="none" stroke="#2e2e2e" stroke-width="1.1"/>
<text x="345.90" y="105.54" text-anchor="end" font-size="9.9" textLength="10.4" lengthAdjust="spacingAndGlyphs">10</text>
<text x="345.90" y="85.83" text-anchor="end" font-size="9.9" textLength="10.4" lengthAdjust="spacingAndGlyphs">20</text>
<text x="345.90" y="66.12" text-anchor="end" font-size="9.9" textLength="10.4" lengthAdjust="spacingAndGlyphs">30</text>
<text x="345.90" y="46.42" text-anchor="end" font-size="9.9" textLength="10.4" lengthAdjust="spacingAndGlyphs">40</text>
<text x="345.90" y="26.71" text-anchor="end" font-size="9.9" textLength="10.4" lengthAdjust="spacingAndGlyphs">50</text>
<text x="345.90" y="7.00" text-anchor="end" font-size="9.9" textLength="10.4" lengthAdjust="spacingAndGlyphs">60</text>
<path d="M367.45 122.55V127.55" fill="none" stroke="#2e2e2e" stroke-width="1.1"/>
<path d="M381.24 122.55V125.15" fill="none" stroke="#2e2e2e" stroke-width="1.1"/>
<text x="367.45" y="138.15" text-anchor="middle" font-size="9.3" textLength="5.0" lengthAdjust="spacingAndGlyphs">2</text>
<path d="M395.03 122.55V127.55" fill="none" stroke="#2e2e2e" stroke-width="1.1"/>
<path d="M408.82 122.55V125.15" fill="none" stroke="#2e2e2e" stroke-width="1.1"/>
<text x="395.03" y="138.15" text-anchor="middle" font-size="9.3" textLength="5.0" lengthAdjust="spacingAndGlyphs">3</text>
<path d="M422.61 122.55V127.55" fill="none" stroke="#2e2e2e" stroke-width="1.1"/>
<path d="M436.40 122.55V125.15" fill="none" stroke="#2e2e2e" stroke-width="1.1"/>
<text x="422.61" y="138.15" text-anchor="middle" font-size="9.3" textLength="5.0" lengthAdjust="spacingAndGlyphs">4</text>
<path d="M450.19 122.55V127.55" fill="none" stroke="#2e2e2e" stroke-width="1.1"/>
<path d="M463.98 122.55V125.15" fill="none" stroke="#2e2e2e" stroke-width="1.1"/>
<text x="450.19" y="138.15" text-anchor="middle" font-size="9.3" textLength="5.0" lengthAdjust="spacingAndGlyphs">5</text>
<path d="M477.77 122.55V127.55" fill="none" stroke="#2e2e2e" stroke-width="1.1"/>
<path d="M491.56 122.55V125.15" fill="none" stroke="#2e2e2e" stroke-width="1.1"/>
<text x="477.77" y="138.15" text-anchor="middle" font-size="9.3" textLength="5.0" lengthAdjust="spacingAndGlyphs">6</text>
<path d="M505.35 122.55V127.55" fill="none" stroke="#2e2e2e" stroke-width="1.1"/>
<path d="M519.14 122.55V125.15" fill="none" stroke="#2e2e2e" stroke-width="1.1"/>
<text x="505.35" y="138.15" text-anchor="middle" font-size="9.3" textLength="5.0" lengthAdjust="spacingAndGlyphs">7</text>
<path d="M532.93 122.55V127.55" fill="none" stroke="#2e2e2e" stroke-width="1.1"/>
<path d="M546.72 122.55V125.15" fill="none" stroke="#2e2e2e" stroke-width="1.1"/>
<text x="532.93" y="138.15" text-anchor="middle" font-size="9.3" textLength="5.0" lengthAdjust="spacingAndGlyphs">8</text>
<path d="M560.51 122.55V127.55" fill="none" stroke="#2e2e2e" stroke-width="1.1"/>
<path d="M574.30 122.55V125.15" fill="none" stroke="#2e2e2e" stroke-width="1.1"/>
<text x="560.51" y="138.15" text-anchor="middle" font-size="9.3" textLength="5.0" lengthAdjust="spacingAndGlyphs">9</text>
<path d="M588.09 122.55V127.55" fill="none" stroke="#2e2e2e" stroke-width="1.1"/>
<text x="588.09" y="138.15" text-anchor="middle" font-size="9.3" textLength="9.8" lengthAdjust="spacingAndGlyphs">10</text>
<text x="545.33" y="36.40" font-size="10.1" textLength="36.57" lengthAdjust="spacingAndGlyphs">200 GPa</text>
<path d="M348.50 240.80H601.50" fill="none" stroke="#2e2e2e" stroke-width="1.1"/>
<path d="M350.50 230.95H353.50" fill="none" stroke="#2e2e2e" stroke-width="1.1"/>
<path d="M348.50 221.09H353.50" fill="none" stroke="#2e2e2e" stroke-width="1.1"/>
<path d="M350.50 211.24H353.50" fill="none" stroke="#2e2e2e" stroke-width="1.1"/>
<path d="M348.50 201.38H353.50" fill="none" stroke="#2e2e2e" stroke-width="1.1"/>
<path d="M350.50 191.53H353.50" fill="none" stroke="#2e2e2e" stroke-width="1.1"/>
<path d="M348.50 181.68H353.50" fill="none" stroke="#2e2e2e" stroke-width="1.1"/>
<path d="M350.50 171.82H353.50" fill="none" stroke="#2e2e2e" stroke-width="1.1"/>
<path d="M348.50 161.97H353.50" fill="none" stroke="#2e2e2e" stroke-width="1.1"/>
<path d="M350.50 152.11H353.50" fill="none" stroke="#2e2e2e" stroke-width="1.1"/>
<path d="M348.50 142.26H353.50" fill="none" stroke="#2e2e2e" stroke-width="1.1"/>
<path d="M350.50 132.40H353.50" fill="none" stroke="#2e2e2e" stroke-width="1.1"/>
<text x="345.90" y="223.79" text-anchor="end" font-size="9.9" textLength="10.4" lengthAdjust="spacingAndGlyphs">10</text>
<text x="345.90" y="204.08" text-anchor="end" font-size="9.9" textLength="10.4" lengthAdjust="spacingAndGlyphs">20</text>
<text x="345.90" y="184.38" text-anchor="end" font-size="9.9" textLength="10.4" lengthAdjust="spacingAndGlyphs">30</text>
<text x="345.90" y="164.67" text-anchor="end" font-size="9.9" textLength="10.4" lengthAdjust="spacingAndGlyphs">40</text>
<text x="345.90" y="144.96" text-anchor="end" font-size="9.9" textLength="10.4" lengthAdjust="spacingAndGlyphs">50</text>
<text x="345.90" y="125.25" text-anchor="end" font-size="9.9" textLength="10.4" lengthAdjust="spacingAndGlyphs">60</text>
<path d="M367.45 240.80V245.80" fill="none" stroke="#2e2e2e" stroke-width="1.1"/>
<path d="M381.24 240.80V243.40" fill="none" stroke="#2e2e2e" stroke-width="1.1"/>
<text x="367.45" y="256.40" text-anchor="middle" font-size="9.3" textLength="5.0" lengthAdjust="spacingAndGlyphs">2</text>
<path d="M395.03 240.80V245.80" fill="none" stroke="#2e2e2e" stroke-width="1.1"/>
<path d="M408.82 240.80V243.40" fill="none" stroke="#2e2e2e" stroke-width="1.1"/>
<text x="395.03" y="256.40" text-anchor="middle" font-size="9.3" textLength="5.0" lengthAdjust="spacingAndGlyphs">3</text>
<path d="M422.61 240.80V245.80" fill="none" stroke="#2e2e2e" stroke-width="1.1"/>
<path d="M436.40 240.80V243.40" fill="none" stroke="#2e2e2e" stroke-width="1.1"/>
<text x="422.61" y="256.40" text-anchor="middle" font-size="9.3" textLength="5.0" lengthAdjust="spacingAndGlyphs">4</text>
<path d="M450.19 240.80V245.80" fill="none" stroke="#2e2e2e" stroke-width="1.1"/>
<path d="M463.98 240.80V243.40" fill="none" stroke="#2e2e2e" stroke-width="1.1"/>
<text x="450.19" y="256.40" text-anchor="middle" font-size="9.3" textLength="5.0" lengthAdjust="spacingAndGlyphs">5</text>
<path d="M477.77 240.80V245.80" fill="none" stroke="#2e2e2e" stroke-width="1.1"/>
<path d="M491.56 240.80V243.40" fill="none" stroke="#2e2e2e" stroke-width="1.1"/>
<text x="477.77" y="256.40" text-anchor="middle" font-size="9.3" textLength="5.0" lengthAdjust="spacingAndGlyphs">6</text>
<path d="M505.35 240.80V245.80" fill="none" stroke="#2e2e2e" stroke-width="1.1"/>
<path d="M519.14 240.80V243.40" fill="none" stroke="#2e2e2e" stroke-width="1.1"/>
<text x="505.35" y="256.40" text-anchor="middle" font-size="9.3" textLength="5.0" lengthAdjust="spacingAndGlyphs">7</text>
<path d="M532.93 240.80V245.80" fill="none" stroke="#2e2e2e" stroke-width="1.1"/>
<path d="M546.72 240.80V243.40" fill="none" stroke="#2e2e2e" stroke-width="1.1"/>
<text x="532.93" y="256.40" text-anchor="middle" font-size="9.3" textLength="5.0" lengthAdjust="spacingAndGlyphs">8</text>
<path d="M560.51 240.80V245.80" fill="none" stroke="#2e2e2e" stroke-width="1.1"/>
<path d="M574.30 240.80V243.40" fill="none" stroke="#2e2e2e" stroke-width="1.1"/>
<text x="560.51" y="256.40" text-anchor="middle" font-size="9.3" textLength="5.0" lengthAdjust="spacingAndGlyphs">9</text>
<path d="M588.09 240.80V245.80" fill="none" stroke="#2e2e2e" stroke-width="1.1"/>
<text x="588.09" y="256.40" text-anchor="middle" font-size="9.3" textLength="9.8" lengthAdjust="spacingAndGlyphs">10</text>
<text x="547.09" y="166.70" font-size="10.1" textLength="36.81" lengthAdjust="spacingAndGlyphs">100 GPa</text>
<path d="M348.50 359.05H601.50" fill="none" stroke="#2e2e2e" stroke-width="1.1"/>
<path d="M350.50 349.20H353.50" fill="none" stroke="#2e2e2e" stroke-width="1.1"/>
<path d="M348.50 339.34H353.50" fill="none" stroke="#2e2e2e" stroke-width="1.1"/>
<path d="M350.50 329.49H353.50" fill="none" stroke="#2e2e2e" stroke-width="1.1"/>
<path d="M348.50 319.63H353.50" fill="none" stroke="#2e2e2e" stroke-width="1.1"/>
<path d="M350.50 309.78H353.50" fill="none" stroke="#2e2e2e" stroke-width="1.1"/>
<path d="M348.50 299.93H353.50" fill="none" stroke="#2e2e2e" stroke-width="1.1"/>
<path d="M350.50 290.07H353.50" fill="none" stroke="#2e2e2e" stroke-width="1.1"/>
<path d="M348.50 280.22H353.50" fill="none" stroke="#2e2e2e" stroke-width="1.1"/>
<path d="M350.50 270.36H353.50" fill="none" stroke="#2e2e2e" stroke-width="1.1"/>
<path d="M348.50 260.51H353.50" fill="none" stroke="#2e2e2e" stroke-width="1.1"/>
<path d="M350.50 250.65H353.50" fill="none" stroke="#2e2e2e" stroke-width="1.1"/>
<text x="345.90" y="342.04" text-anchor="end" font-size="9.9" textLength="10.4" lengthAdjust="spacingAndGlyphs">10</text>
<text x="345.90" y="322.33" text-anchor="end" font-size="9.9" textLength="10.4" lengthAdjust="spacingAndGlyphs">20</text>
<text x="345.90" y="302.62" text-anchor="end" font-size="9.9" textLength="10.4" lengthAdjust="spacingAndGlyphs">30</text>
<text x="345.90" y="282.92" text-anchor="end" font-size="9.9" textLength="10.4" lengthAdjust="spacingAndGlyphs">40</text>
<text x="345.90" y="263.21" text-anchor="end" font-size="9.9" textLength="10.4" lengthAdjust="spacingAndGlyphs">50</text>
<text x="345.90" y="243.50" text-anchor="end" font-size="9.9" textLength="10.4" lengthAdjust="spacingAndGlyphs">60</text>
<path d="M367.45 359.05V364.05" fill="none" stroke="#2e2e2e" stroke-width="1.1"/>
<path d="M381.24 359.05V361.65" fill="none" stroke="#2e2e2e" stroke-width="1.1"/>
<text x="367.45" y="374.65" text-anchor="middle" font-size="9.3" textLength="5.0" lengthAdjust="spacingAndGlyphs">2</text>
<path d="M395.03 359.05V364.05" fill="none" stroke="#2e2e2e" stroke-width="1.1"/>
<path d="M408.82 359.05V361.65" fill="none" stroke="#2e2e2e" stroke-width="1.1"/>
<text x="395.03" y="374.65" text-anchor="middle" font-size="9.3" textLength="5.0" lengthAdjust="spacingAndGlyphs">3</text>
<path d="M422.61 359.05V364.05" fill="none" stroke="#2e2e2e" stroke-width="1.1"/>
<path d="M436.40 359.05V361.65" fill="none" stroke="#2e2e2e" stroke-width="1.1"/>
<text x="422.61" y="374.65" text-anchor="middle" font-size="9.3" textLength="5.0" lengthAdjust="spacingAndGlyphs">4</text>
<path d="M450.19 359.05V364.05" fill="none" stroke="#2e2e2e" stroke-width="1.1"/>
<path d="M463.98 359.05V361.65" fill="none" stroke="#2e2e2e" stroke-width="1.1"/>
<text x="450.19" y="374.65" text-anchor="middle" font-size="9.3" textLength="5.0" lengthAdjust="spacingAndGlyphs">5</text>
<path d="M477.77 359.05V364.05" fill="none" stroke="#2e2e2e" stroke-width="1.1"/>
<path d="M491.56 359.05V361.65" fill="none" stroke="#2e2e2e" stroke-width="1.1"/>
<text x="477.77" y="374.65" text-anchor="middle" font-size="9.3" textLength="5.0" lengthAdjust="spacingAndGlyphs">6</text>
<path d="M505.35 359.05V364.05" fill="none" stroke="#2e2e2e" stroke-width="1.1"/>
<path d="M519.14 359.05V361.65" fill="none" stroke="#2e2e2e" stroke-width="1.1"/>
<text x="505.35" y="374.65" text-anchor="middle" font-size="9.3" textLength="5.0" lengthAdjust="spacingAndGlyphs">7</text>
<path d="M532.93 359.05V364.05" fill="none" stroke="#2e2e2e" stroke-width="1.1"/>
<path d="M546.72 359.05V361.65" fill="none" stroke="#2e2e2e" stroke-width="1.1"/>
<text x="532.93" y="374.65" text-anchor="middle" font-size="9.3" textLength="5.0" lengthAdjust="spacingAndGlyphs">8</text>
<path d="M560.51 359.05V364.05" fill="none" stroke="#2e2e2e" stroke-width="1.1"/>
<path d="M574.30 359.05V361.65" fill="none" stroke="#2e2e2e" stroke-width="1.1"/>
<text x="560.51" y="374.65" text-anchor="middle" font-size="9.3" textLength="5.0" lengthAdjust="spacingAndGlyphs">9</text>
<path d="M588.09 359.05V364.05" fill="none" stroke="#2e2e2e" stroke-width="1.1"/>
<text x="588.09" y="374.65" text-anchor="middle" font-size="9.3" textLength="9.8" lengthAdjust="spacingAndGlyphs">10</text>
<text x="555.43" y="285.20" font-size="10.1" textLength="30.97" lengthAdjust="spacingAndGlyphs">50 GPa</text>
<path d="M348.50 477.30H601.50" fill="none" stroke="#2e2e2e" stroke-width="1.1"/>
<path d="M350.50 467.45H353.50" fill="none" stroke="#2e2e2e" stroke-width="1.1"/>
<path d="M348.50 457.59H353.50" fill="none" stroke="#2e2e2e" stroke-width="1.1"/>
<path d="M350.50 447.74H353.50" fill="none" stroke="#2e2e2e" stroke-width="1.1"/>
<path d="M348.50 437.88H353.50" fill="none" stroke="#2e2e2e" stroke-width="1.1"/>
<path d="M350.50 428.03H353.50" fill="none" stroke="#2e2e2e" stroke-width="1.1"/>
<path d="M348.50 418.18H353.50" fill="none" stroke="#2e2e2e" stroke-width="1.1"/>
<path d="M350.50 408.32H353.50" fill="none" stroke="#2e2e2e" stroke-width="1.1"/>
<path d="M348.50 398.47H353.50" fill="none" stroke="#2e2e2e" stroke-width="1.1"/>
<path d="M350.50 388.61H353.50" fill="none" stroke="#2e2e2e" stroke-width="1.1"/>
<path d="M348.50 378.76H353.50" fill="none" stroke="#2e2e2e" stroke-width="1.1"/>
<path d="M350.50 368.90H353.50" fill="none" stroke="#2e2e2e" stroke-width="1.1"/>
<text x="345.90" y="460.29" text-anchor="end" font-size="9.9" textLength="10.4" lengthAdjust="spacingAndGlyphs">10</text>
<text x="345.90" y="440.58" text-anchor="end" font-size="9.9" textLength="10.4" lengthAdjust="spacingAndGlyphs">20</text>
<text x="345.90" y="420.88" text-anchor="end" font-size="9.9" textLength="10.4" lengthAdjust="spacingAndGlyphs">30</text>
<text x="345.90" y="401.17" text-anchor="end" font-size="9.9" textLength="10.4" lengthAdjust="spacingAndGlyphs">40</text>
<text x="345.90" y="381.46" text-anchor="end" font-size="9.9" textLength="10.4" lengthAdjust="spacingAndGlyphs">50</text>
<text x="345.90" y="361.75" text-anchor="end" font-size="9.9" textLength="10.4" lengthAdjust="spacingAndGlyphs">60</text>
<path d="M367.45 477.30V482.30" fill="none" stroke="#2e2e2e" stroke-width="1.1"/>
<path d="M381.24 477.30V479.90" fill="none" stroke="#2e2e2e" stroke-width="1.1"/>
<text x="367.45" y="492.90" text-anchor="middle" font-size="9.3" textLength="5.0" lengthAdjust="spacingAndGlyphs">2</text>
<path d="M395.03 477.30V482.30" fill="none" stroke="#2e2e2e" stroke-width="1.1"/>
<path d="M408.82 477.30V479.90" fill="none" stroke="#2e2e2e" stroke-width="1.1"/>
<text x="395.03" y="492.90" text-anchor="middle" font-size="9.3" textLength="5.0" lengthAdjust="spacingAndGlyphs">3</text>
<path d="M422.61 477.30V482.30" fill="none" stroke="#2e2e2e" stroke-width="1.1"/>
<path d="M436.40 477.30V479.90" fill="none" stroke="#2e2e2e" stroke-width="1.1"/>
<text x="422.61" y="492.90" text-anchor="middle" font-size="9.3" textLength="5.0" lengthAdjust="spacingAndGlyphs">4</text>
<path d="M450.19 477.30V482.30" fill="none" stroke="#2e2e2e" stroke-width="1.1"/>
<path d="M463.98 477.30V479.90" fill="none" stroke="#2e2e2e" stroke-width="1.1"/>
<text x="450.19" y="492.90" text-anchor="middle" font-size="9.3" textLength="5.0" lengthAdjust="spacingAndGlyphs">5</text>
<path d="M477.77 477.30V482.30" fill="none" stroke="#2e2e2e" stroke-width="1.1"/>
<path d="M491.56 477.30V479.90" fill="none" stroke="#2e2e2e" stroke-width="1.1"/>
<text x="477.77" y="492.90" text-anchor="middle" font-size="9.3" textLength="5.0" lengthAdjust="spacingAndGlyphs">6</text>
<path d="M505.35 477.30V482.30" fill="none" stroke="#2e2e2e" stroke-width="1.1"/>
<path d="M519.14 477.30V479.90" fill="none" stroke="#2e2e2e" stroke-width="1.1"/>
<text x="505.35" y="492.90" text-anchor="middle" font-size="9.3" textLength="5.0" lengthAdjust="spacingAndGlyphs">7</text>
<path d="M532.93 477.30V482.30" fill="none" stroke="#2e2e2e" stroke-width="1.1"/>
<path d="M546.72 477.30V479.90" fill="none" stroke="#2e2e2e" stroke-width="1.1"/>
<text x="532.93" y="492.90" text-anchor="middle" font-size="9.3" textLength="5.0" lengthAdjust="spacingAndGlyphs">8</text>
<path d="M560.51 477.30V482.30" fill="none" stroke="#2e2e2e" stroke-width="1.1"/>
<path d="M574.30 477.30V479.90" fill="none" stroke="#2e2e2e" stroke-width="1.1"/>
<text x="560.51" y="492.90" text-anchor="middle" font-size="9.3" textLength="5.0" lengthAdjust="spacingAndGlyphs">9</text>
<path d="M588.09 477.30V482.30" fill="none" stroke="#2e2e2e" stroke-width="1.1"/>
<text x="588.09" y="492.90" text-anchor="middle" font-size="9.3" textLength="9.8" lengthAdjust="spacingAndGlyphs">10</text>
<text x="556.04" y="399.00" font-size="10.1" textLength="30.86" lengthAdjust="spacingAndGlyphs">20 GPa</text>
<path d="M348.50 595.55H601.50" fill="none" stroke="#2e2e2e" stroke-width="1.1"/>
<path d="M350.50 585.70H353.50" fill="none" stroke="#2e2e2e" stroke-width="1.1"/>
<path d="M348.50 575.84H353.50" fill="none" stroke="#2e2e2e" stroke-width="1.1"/>
<path d="M350.50 565.99H353.50" fill="none" stroke="#2e2e2e" stroke-width="1.1"/>
<path d="M348.50 556.13H353.50" fill="none" stroke="#2e2e2e" stroke-width="1.1"/>
<path d="M350.50 546.28H353.50" fill="none" stroke="#2e2e2e" stroke-width="1.1"/>
<path d="M348.50 536.42H353.50" fill="none" stroke="#2e2e2e" stroke-width="1.1"/>
<path d="M350.50 526.57H353.50" fill="none" stroke="#2e2e2e" stroke-width="1.1"/>
<path d="M348.50 516.72H353.50" fill="none" stroke="#2e2e2e" stroke-width="1.1"/>
<path d="M350.50 506.86H353.50" fill="none" stroke="#2e2e2e" stroke-width="1.1"/>
<path d="M348.50 497.01H353.50" fill="none" stroke="#2e2e2e" stroke-width="1.1"/>
<path d="M350.50 487.15H353.50" fill="none" stroke="#2e2e2e" stroke-width="1.1"/>
<text x="345.90" y="578.54" text-anchor="end" font-size="9.9" textLength="10.4" lengthAdjust="spacingAndGlyphs">10</text>
<text x="345.90" y="558.83" text-anchor="end" font-size="9.9" textLength="10.4" lengthAdjust="spacingAndGlyphs">20</text>
<text x="345.90" y="539.12" text-anchor="end" font-size="9.9" textLength="10.4" lengthAdjust="spacingAndGlyphs">30</text>
<text x="345.90" y="519.42" text-anchor="end" font-size="9.9" textLength="10.4" lengthAdjust="spacingAndGlyphs">40</text>
<text x="345.90" y="499.71" text-anchor="end" font-size="9.9" textLength="10.4" lengthAdjust="spacingAndGlyphs">50</text>
<text x="345.90" y="480.00" text-anchor="end" font-size="9.9" textLength="10.4" lengthAdjust="spacingAndGlyphs">60</text>
<path d="M367.45 595.55V600.55" fill="none" stroke="#2e2e2e" stroke-width="1.1"/>
<path d="M381.24 595.55V598.15" fill="none" stroke="#2e2e2e" stroke-width="1.1"/>
<text x="367.45" y="611.15" text-anchor="middle" font-size="9.3" textLength="5.0" lengthAdjust="spacingAndGlyphs">2</text>
<path d="M395.03 595.55V600.55" fill="none" stroke="#2e2e2e" stroke-width="1.1"/>
<path d="M408.82 595.55V598.15" fill="none" stroke="#2e2e2e" stroke-width="1.1"/>
<text x="395.03" y="611.15" text-anchor="middle" font-size="9.3" textLength="5.0" lengthAdjust="spacingAndGlyphs">3</text>
<path d="M422.61 595.55V600.55" fill="none" stroke="#2e2e2e" stroke-width="1.1"/>
<path d="M436.40 595.55V598.15" fill="none" stroke="#2e2e2e" stroke-width="1.1"/>
<text x="422.61" y="611.15" text-anchor="middle" font-size="9.3" textLength="5.0" lengthAdjust="spacingAndGlyphs">4</text>
<path d="M450.19 595.55V600.55" fill="none" stroke="#2e2e2e" stroke-width="1.1"/>
<path d="M463.98 595.55V598.15" fill="none" stroke="#2e2e2e" stroke-width="1.1"/>
<text x="450.19" y="611.15" text-anchor="middle" font-size="9.3" textLength="5.0" lengthAdjust="spacingAndGlyphs">5</text>
<path d="M477.77 595.55V600.55" fill="none" stroke="#2e2e2e" stroke-width="1.1"/>
<path d="M491.56 595.55V598.15" fill="none" stroke="#2e2e2e" stroke-width="1.1"/>
<text x="477.77" y="611.15" text-anchor="middle" font-size="9.3" textLength="5.0" lengthAdjust="spacingAndGlyphs">6</text>
<path d="M505.35 595.55V600.55" fill="none" stroke="#2e2e2e" stroke-width="1.1"/>
<path d="M519.14 595.55V598.15" fill="none" stroke="#2e2e2e" stroke-width="1.1"/>
<text x="505.35" y="611.15" text-anchor="middle" font-size="9.3" textLength="5.0" lengthAdjust="spacingAndGlyphs">7</text>
<path d="M532.93 595.55V600.55" fill="none" stroke="#2e2e2e" stroke-width="1.1"/>
<path d="M546.72 595.55V598.15" fill="none" stroke="#2e2e2e" stroke-width="1.1"/>
<text x="532.93" y="611.15" text-anchor="middle" font-size="9.3" textLength="5.0" lengthAdjust="spacingAndGlyphs">8</text>
<path d="M560.51 595.55V600.55" fill="none" stroke="#2e2e2e" stroke-width="1.1"/>
<path d="M574.30 595.55V598.15" fill="none" stroke="#2e2e2e" stroke-width="1.1"/>
<text x="560.51" y="611.15" text-anchor="middle" font-size="9.3" textLength="5.0" lengthAdjust="spacingAndGlyphs">9</text>
<path d="M588.09 595.55V600.55" fill="none" stroke="#2e2e2e" stroke-width="1.1"/>
<text x="588.09" y="611.15" text-anchor="middle" font-size="9.3" textLength="9.8" lengthAdjust="spacingAndGlyphs">10</text>
<text x="561.54" y="518.50" font-size="10.1" textLength="25.86" lengthAdjust="spacingAndGlyphs">0 GPa</text>
<text x="345.90" y="598.25" text-anchor="end" font-size="9.9" textLength="5.2" lengthAdjust="spacingAndGlyphs">0</text>
<g transform="translate(328.90 334.7) rotate(-90)"><text x="-1.10" y="0.00" font-size="12.3" textLength="48.58" lengthAdjust="spacingAndGlyphs">Fraction</text><text x="51.12" y="0.00" font-size="12.3" textLength="19.56" lengthAdjust="spacingAndGlyphs">(%)</text></g>
<text x="434.11" y="635.40" font-size="13.1" textLength="86.86" lengthAdjust="spacingAndGlyphs">n-fold T-O ring</text>
<text x="452.49" y="664.80" font-size="15" textLength="13.99" lengthAdjust="spacingAndGlyphs">b)</text>
</svg>
</body></html>
